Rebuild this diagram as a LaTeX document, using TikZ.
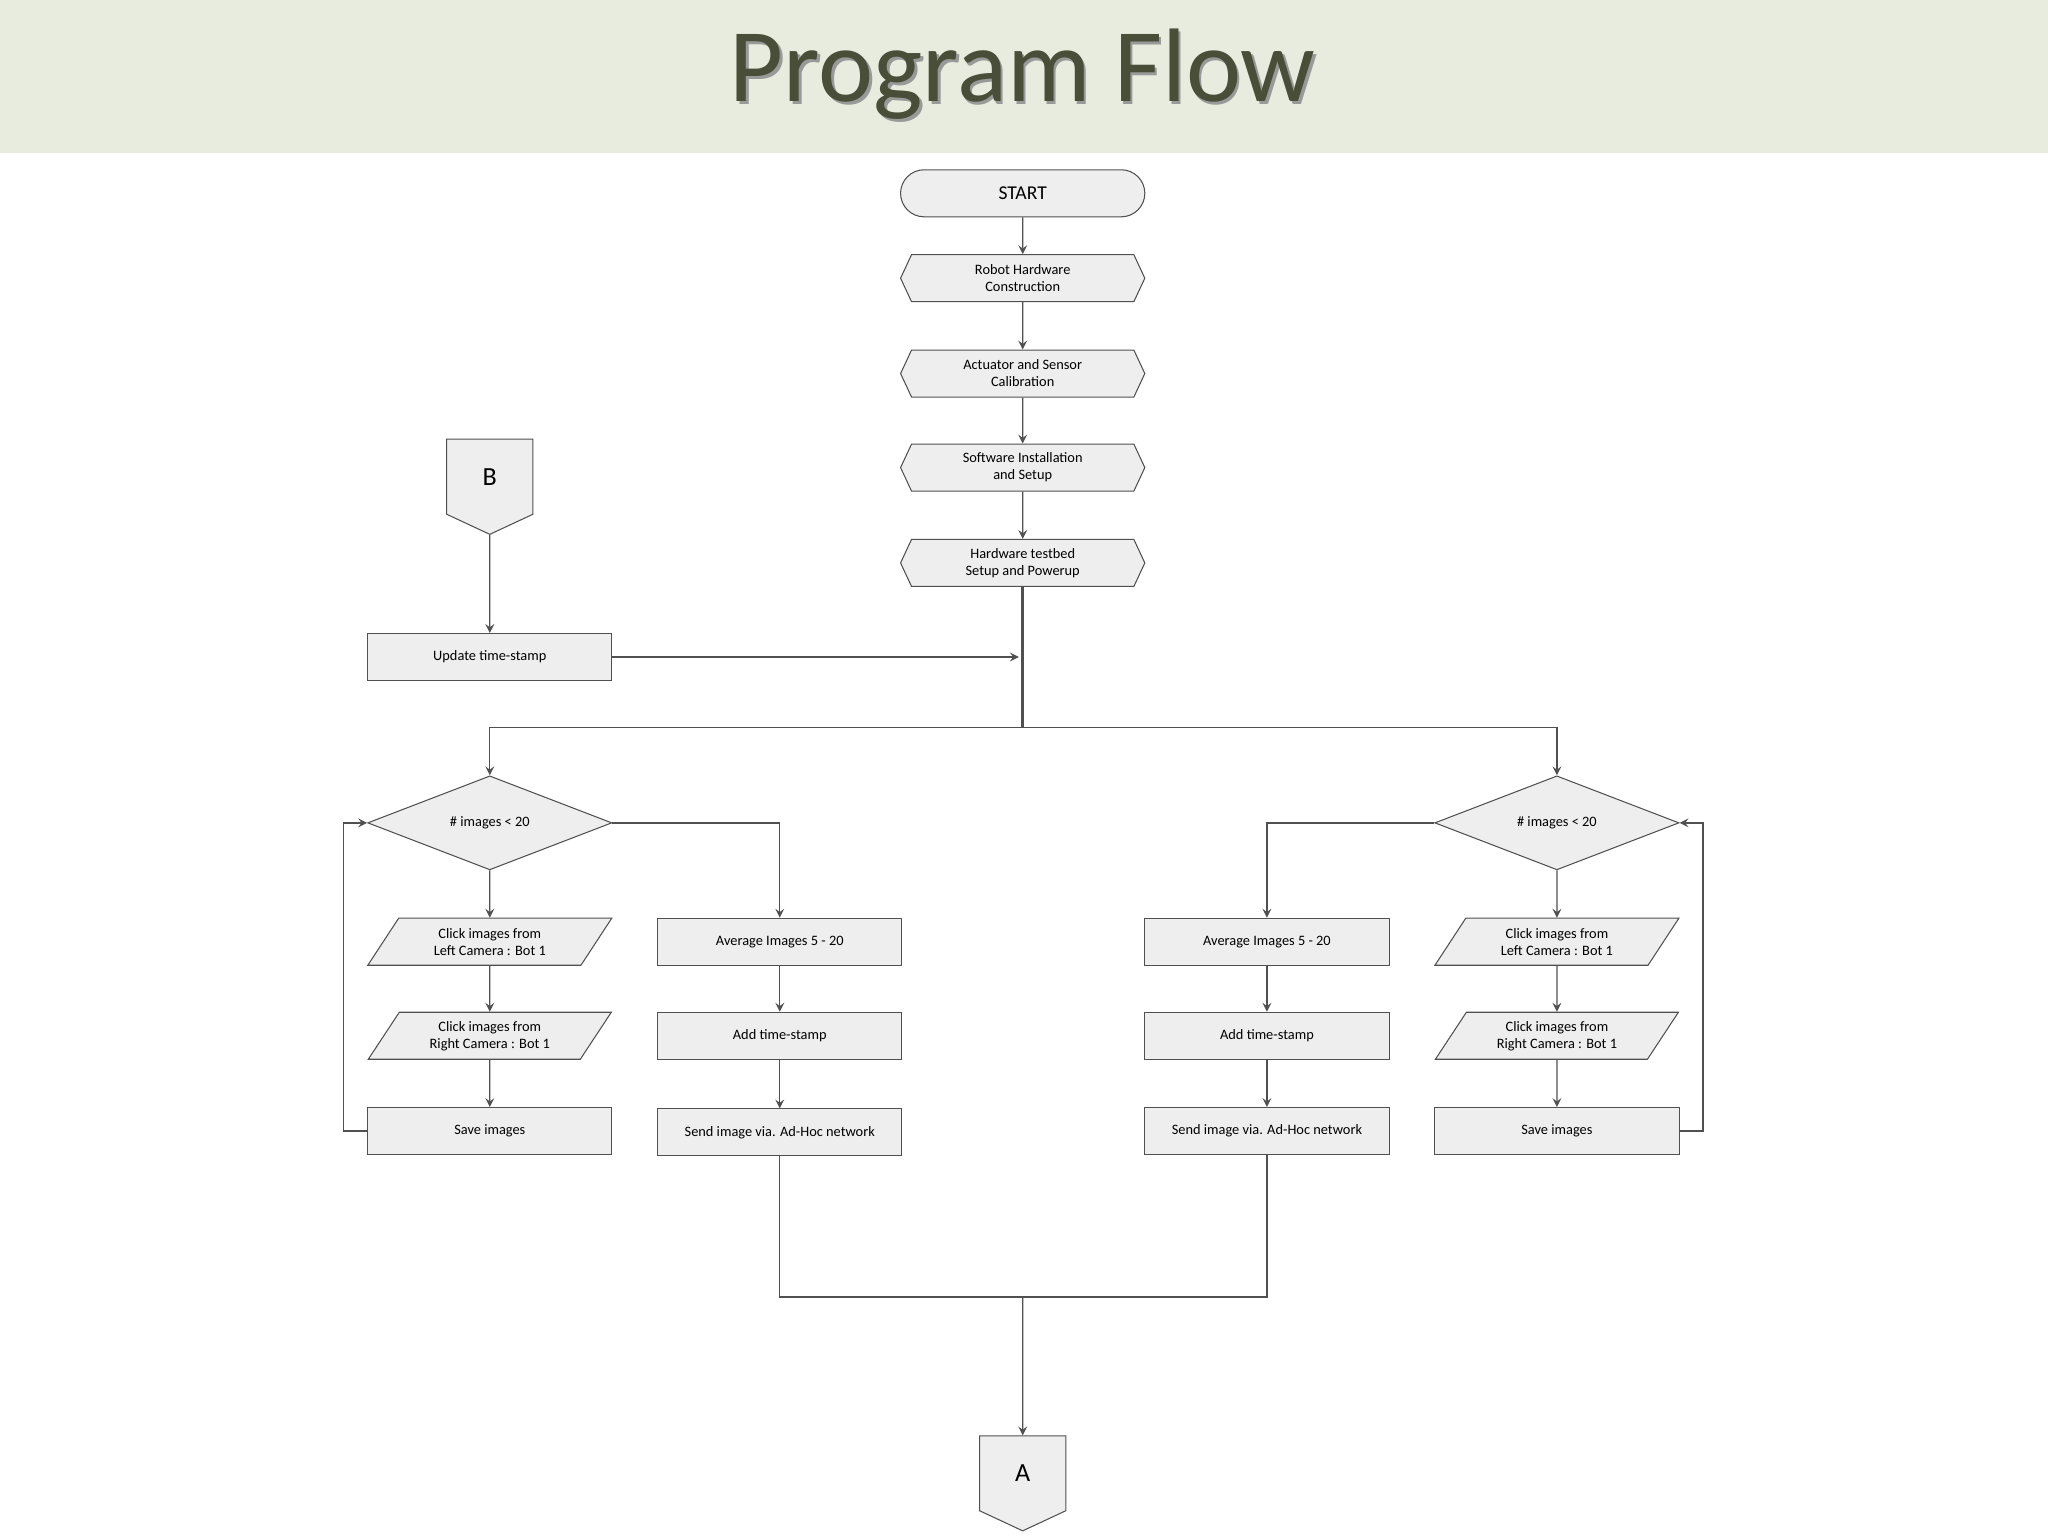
\documentclass[tikz,border=0pt]{standalone}
\usepackage{fontspec}
\setmainfont{Carlito}
\usetikzlibrary{positioning,shapes.geometric,shapes.symbols,shapes.misc,calc}
\definecolor{band}{RGB}{232,236,222}
\definecolor{titlec}{RGB}{72,78,56}
\definecolor{boxfill}{RGB}{238,238,238}
\definecolor{linec}{RGB}{80,80,80}
\tikzset{
  base/.style={draw=linec, fill=boxfill, font=\fontsize{5.5}{6.5}\selectfont, align=center, inner sep=0pt},
  box/.style={base, rectangle, minimum width=93.5pt, minimum height=18pt},
  hexa/.style={base, signal, signal to=east and west, signal pointer angle=130, minimum width=93.5pt, minimum height=18pt},
  para/.style={base, trapezium, trapezium left angle=55, trapezium right angle=125, trapezium stretches=true, minimum width=93.5pt, minimum height=18pt},
  cond/.style={base, diamond, aspect=2.6, minimum width=93.5pt, minimum height=36pt},
  page/.style={base, signal, signal to=south, signal pointer angle=130, minimum width=33pt, minimum height=30pt, font=\fontsize{10}{12}\selectfont},
  line/.style={draw=linec, line width=0.5pt},
  arr/.style={line, -stealth}
}
\begin{document}
\begin{tikzpicture}[x=0.5pt, y=-0.5pt]
        \useasboundingbox (0,0) rectangle (1568,1176);
        \fill[band] (0,0) rectangle (1568,117);
        \node[text=black!40, font=\fontsize{40}{44}\selectfont] at (785,59) {Program Flow};
        \node[text=titlec, font=\fontsize{40}{44}\selectfont] (title) at (783,57) {Program Flow};

        % centre column
        \node[base, rounded rectangle, minimum width=93.5pt, minimum height=18pt, font=\fontsize{7.5}{9}\selectfont] (start) at (783,148) {START};
        \node[hexa] (robot) at (783,213) {Robot Hardware\\Construction};
        \node[hexa] (calib) at (783,286) {Actuator and Sensor\\Calibration};
        \node[hexa] (soft) at (783,358) {Software Installation\\and Setup};
        \node[hexa] (hw) at (783,431) {Hardware testbed\\Setup and Powerup};
        \node[page] (b) at (375,365) {B};
        \node[box] (upd) at (375,503) {Update time-stamp};
        \coordinate (merge) at (783,503);
        \coordinate (split) at (783,557);

        % left branch
        \node[cond] (condl) at (375,630) {\# images < 20};
        \node[para] (clickll) at (375,721) {Click images from\\Left Camera : Bot 1};
        \node[para] (clicklr) at (375,793) {Click images from\\Right Camera : Bot 1};
        \node[box] (savel) at (375,866) {Save images};
        \node[box] (avgl) at (597,721) {Average Images 5 - 20};
        \node[box] (addl) at (597,793) {Add time-stamp};
        \node[box] (sendl) at (597,867) {Send image via. Ad-Hoc network};

        % right branch
        \node[cond] (condr) at (1192,630) {\# images < 20};
        \node[para] (clickrl) at (1192,721) {Click images from\\Left Camera : Bot 1};
        \node[para] (clickrr) at (1192,793) {Click images from\\Right Camera : Bot 1};
        \node[box] (saver) at (1192,866) {Save images};
        \node[box] (avgr) at (970,721) {Average Images 5 - 20};
        \node[box] (addr) at (970,793) {Add time-stamp};
        \node[box] (sendr) at (970,866) {Send image via. Ad-Hoc network};

        \coordinate (join) at (783,993);
        \node[page] (a) at (783,1128) {A};

        \draw[arr] (start) -- (robot);
        \draw[arr] (robot) -- (calib);
        \draw[arr] (calib) -- (soft);
        \draw[arr] (soft) -- (hw);
        \draw[line, line width=1pt] (hw) -- (split);
        \draw[arr] (b) -- (upd);
        \draw[arr] (upd) -- ($(merge)+(-3,0)$);
        \draw[arr] (split) -| (condl);
        \draw[arr] (split) -| (condr);

        \draw[arr] (condl) -- (clickll);
        \draw[arr] (clickll) -- (clicklr);
        \draw[arr] (clicklr) -- (savel);
        \draw[arr] (savel.west) -- ++(-18,0) |- (condl.west);
        \draw[arr] (condl.east) -| (avgl);
        \draw[arr] (avgl) -- (addl);
        \draw[arr] (addl) -- (sendl);

        \draw[arr] (condr) -- (clickrl);
        \draw[arr] (clickrl) -- (clickrr);
        \draw[arr] (clickrr) -- (saver);
        \draw[arr] (saver.east) -- ++(18,0) |- (condr.east);
        \draw[arr] (condr.west) -| (avgr);
        \draw[arr] (avgr) -- (addr);
        \draw[arr] (addr) -- (sendr);

        \draw[line] (sendl) |- (join) -| (sendr);
        \draw[arr] (join) -- (a);
\end{tikzpicture}
\end{document}
